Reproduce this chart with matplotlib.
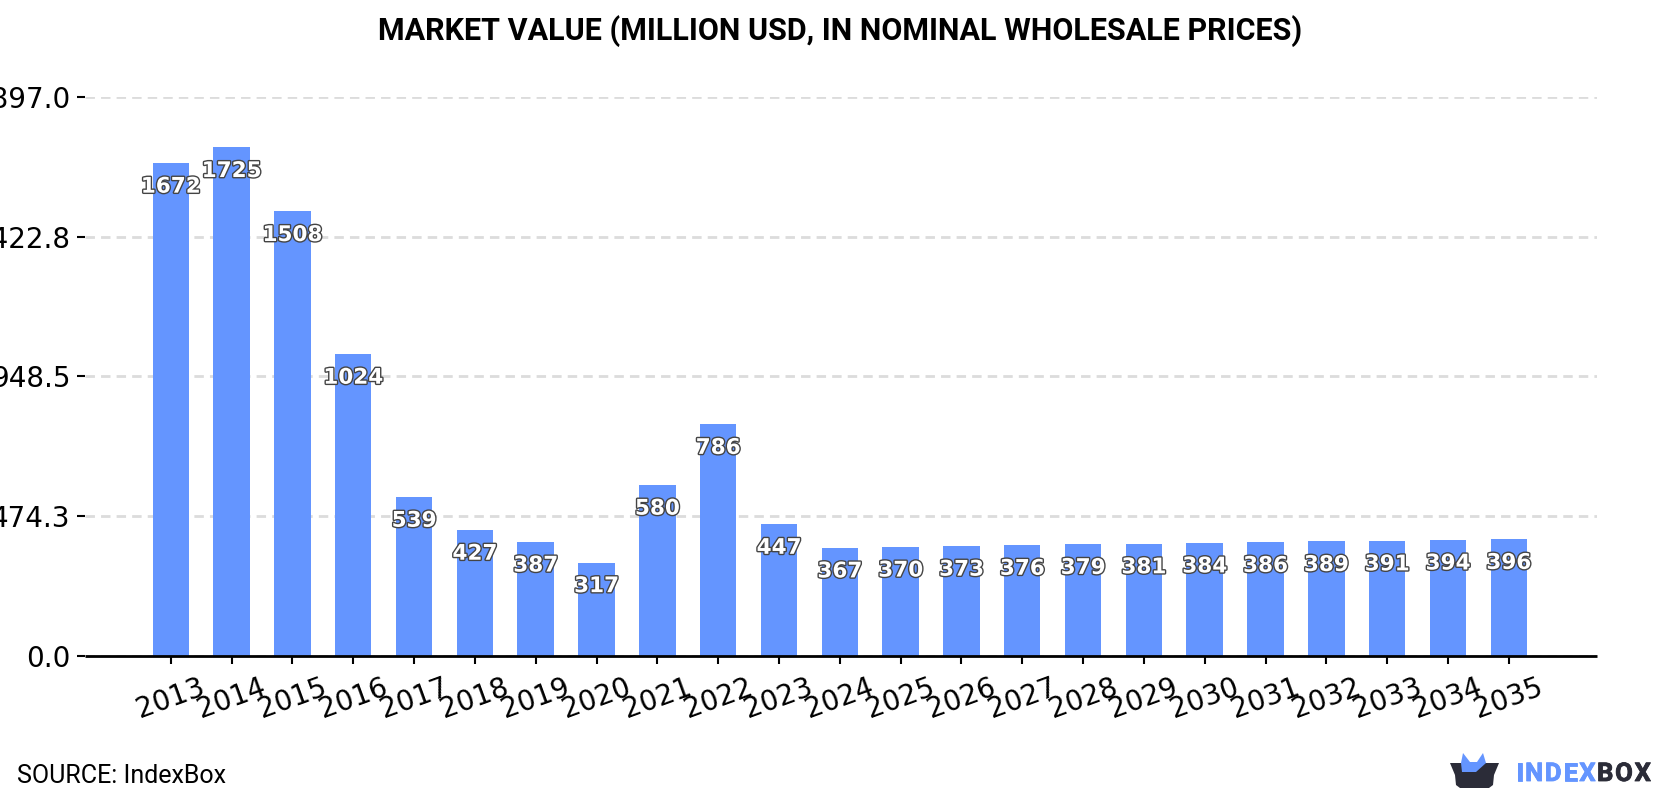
import matplotlib
matplotlib.use("Agg")
import matplotlib.pyplot as plt
import matplotlib.patheffects as pe
from matplotlib.patches import Polygon

years = list(range(2013, 2036))
values = [1672, 1725, 1508, 1024, 539, 427, 387, 317, 580, 786, 447, 367,
          370, 373, 376, 379, 381, 384, 386, 389, 391, 394, 396]
y_ticks = [0.0, 474.3, 948.5, 1422.8, 1897.0]

BLUE = "#6495ff"
DARK = "#2b2c38"

W, H = 1680, 800
fig = plt.figure(figsize=(W / 100, H / 100), dpi=100)
ax = fig.add_axes([85 / W, 1 - 656 / H, (1597 - 85) / W, (656 - 96.7) / H])

ax.bar(years, values, width=0.6, color=BLUE, zorder=3)
ax.set_xlim(2013 - 1.41, 2035 + 1.45)
ax.set_ylim(0, 1897.0)

ax.set_yticks(y_ticks)
ax.set_yticklabels([f"{t:.1f}" for t in y_ticks])
ax.set_xticks(years)
ax.set_xticklabels(years, rotation=20)
ax.tick_params(axis="both", labelsize=20, length=5.5, width=1.5, colors="black", pad=5)
ax.tick_params(axis="x", pad=7)

ax.grid(axis="y", color="#dcdcdc", linewidth=2, linestyle=(0, (3.4, 2.2)), zorder=1)
ax.set_axisbelow(True)
for side in ["top", "right", "left"]:
    ax.spines[side].set_visible(False)
ax.spines["bottom"].set_linewidth(2)
ax.spines["bottom"].set_zorder(4)
ax.spines["bottom"].set_capstyle("butt")

for year, val in zip(years, values):
    ax.annotate(str(val), (year, val), xytext=(0, -17), textcoords="offset points",
                ha="center", va="center", fontsize=15.5, fontweight="bold", color="white",
                zorder=5, path_effects=[pe.withStroke(linewidth=2, foreground="#444444")])

fig.text(0.5, 1 - 31 / H, "MARKET VALUE (MILLION USD, IN NOMINAL WHOLESALE PRICES)",
         family="Roboto", fontweight="bold", fontsize=22, ha="center", va="center", color="black")
fig.text(17 / W, 1 - 776 / H, "SOURCE: IndexBox", family="Roboto", fontsize=18,
         ha="left", va="center", color="black")

# logo: open box with a blue crown
def px(points):
    return [(x / W, 1 - y / H) for x, y in points]

fig.add_artist(Polygon(px([(1450, 763), (1499, 763), (1494, 775), (1493, 785), (1489, 788),
                           (1460, 788), (1456, 785), (1455, 775)]),
                       closed=True, color=DARK, lw=0))
fig.add_artist(Polygon(px([(1461, 763), (1463, 753), (1470, 762), (1477, 762), (1483, 753),
                           (1486, 763), (1476, 772), (1462, 772)]),
                       closed=True, color=BLUE, lw=0))

# logo wordmark is letter-spaced, so each letter goes down on its own
renderer = fig.canvas.get_renderer()

def spaced_text(x, word, color, spacing=1.6):
    for ch in word:
        t = fig.text(x / W, 1 - 774 / H, ch, family="Roboto", fontweight="bold",
                     fontsize=18.5, color=color, ha="left", va="center",
                     path_effects=[pe.withStroke(linewidth=0.6, foreground=color)])
        x += t.get_window_extent(renderer).width + spacing

spaced_text(1516, "INDEX", BLUE)
spaced_text(1597, "BOX", DARK)

fig.savefig("out.png", dpi=100)
